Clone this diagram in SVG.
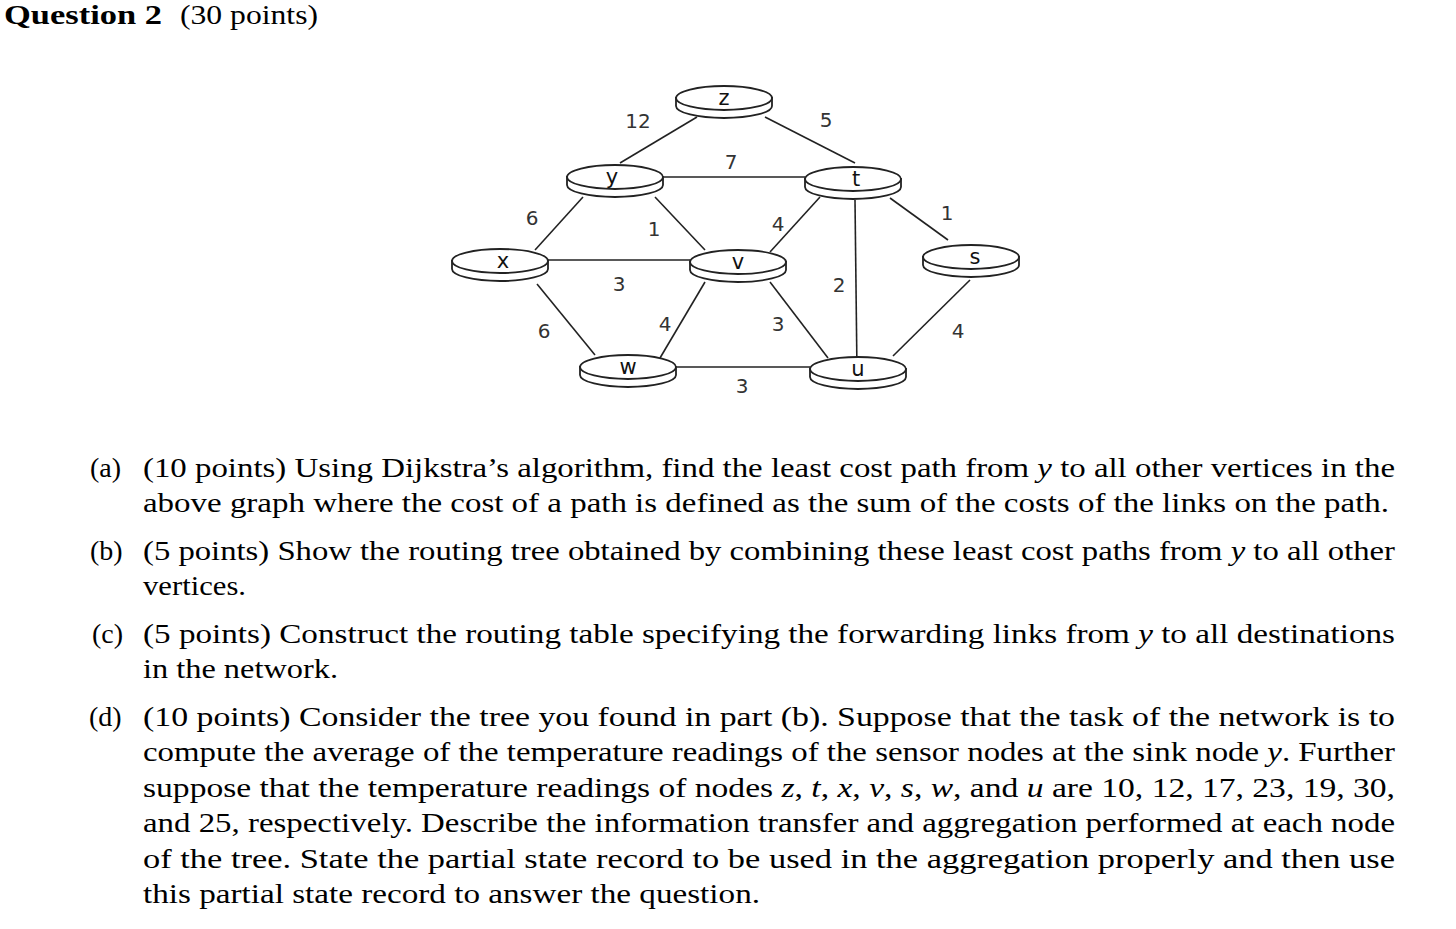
<svg xmlns="http://www.w3.org/2000/svg" width="1456" height="929" viewBox="0 0 1456 929">
<style>
.e{stroke:#222;stroke-width:1.6;fill:none}
.d{fill:#fff;stroke:#222;stroke-width:1.8}
.n{font-family:"DejaVu Sans",sans-serif;font-size:21px;fill:#111;text-anchor:middle}
.l{font-family:"DejaVu Sans",sans-serif;font-size:20px;fill:#333;text-anchor:middle}
.t{font-family:"Liberation Serif",serif;font-size:28px;fill:#000}
.i{font-style:italic}
</style>
<rect width="1456" height="929" fill="#fff"/>
<text x="4" y="24" class="t" font-weight="bold" textLength="158" lengthAdjust="spacingAndGlyphs">Question 2</text>
<text x="180" y="24" class="t" textLength="138" lengthAdjust="spacingAndGlyphs">(30 points)</text>
<g id="connectors">
<line class="e" x1="620" y1="163" x2="697" y2="117"/>
<line class="e" x1="765" y1="117" x2="855" y2="163"/>
<line class="e" x1="664" y1="177" x2="805" y2="177"/>
<line class="e" x1="583" y1="197" x2="535" y2="250"/>
<line class="e" x1="655" y1="197" x2="705" y2="250"/>
<line class="e" x1="820" y1="197" x2="770" y2="252"/>
<line class="e" x1="548" y1="260" x2="690" y2="260"/>
<line class="e" x1="890" y1="198" x2="948" y2="240"/>
<line class="e" x1="855" y1="200" x2="857" y2="372"/>
<line class="e" x1="537" y1="284" x2="595" y2="355"/>
<line class="e" x1="705" y1="282" x2="660" y2="358"/>
<line class="e" x1="770" y1="282" x2="828" y2="358"/>
<line class="e" x1="677" y1="367" x2="810" y2="367"/>
<line class="e" x1="970" y1="280" x2="893" y2="356"/>
<text class="l" x="638" y="128">12</text>
<text class="l" x="826" y="127">5</text>
<text class="l" x="731" y="169">7</text>
<text class="l" x="532" y="225">6</text>
<text class="l" x="654" y="236">1</text>
<text class="l" x="778" y="231">4</text>
<text class="l" x="947" y="220">1</text>
<text class="l" x="619" y="291">3</text>
<text class="l" x="839" y="292">2</text>
<text class="l" x="544" y="338">6</text>
<text class="l" x="665" y="331">4</text>
<text class="l" x="778" y="331">3</text>
<text class="l" x="958" y="338">4</text>
<text class="l" x="742" y="393">3</text>
</g>
<defs>
<g id="disk">
<path class="d" d="M-48,0 v8 A48,12 0 0 0 48,8 v-8 Z"/>
<ellipse class="d" cx="0" cy="0" rx="48" ry="12"/>
</g>
</defs>
<g id="node-z"><use href="#disk" x="724" y="98"/><text class="n" x="724" y="105">z</text></g>
<g id="node-y"><use href="#disk" x="615" y="177"/><text class="n" x="612" y="184">y</text></g>
<g id="node-t"><use href="#disk" x="853" y="179"/><text class="n" x="856" y="186">t</text></g>
<g id="node-x"><use href="#disk" x="500" y="261"/><text class="n" x="503" y="268">x</text></g>
<g id="node-v"><use href="#disk" x="738" y="262"/><text class="n" x="738" y="269">v</text></g>
<g id="node-s"><use href="#disk" x="971" y="257"/><text class="n" x="975" y="264">s</text></g>
<g id="node-w"><use href="#disk" x="628" y="367"/><text class="n" x="628" y="374">w</text></g>
<g id="node-u"><use href="#disk" x="858" y="369"/><text class="n" x="858" y="376">u</text></g>
<g id="text">
<text class="t" x="90" y="477">(a)</text>
<text class="t" x="143" y="477" textLength="1252" lengthAdjust="spacingAndGlyphs">(10 points) Using Dijkstra’s algorithm, find the least cost path from <tspan class="i">y</tspan> to all other vertices in the</text>
<text class="t" x="143" y="512" textLength="1246" lengthAdjust="spacingAndGlyphs">above graph where the cost of a path is defined as the sum of the costs of the links on the path.</text>
<text class="t" x="90" y="560">(b)</text>
<text class="t" x="143" y="560" textLength="1252" lengthAdjust="spacingAndGlyphs">(5 points) Show the routing tree obtained by combining these least cost paths from <tspan class="i">y</tspan> to all other</text>
<text class="t" x="143" y="595" textLength="103" lengthAdjust="spacingAndGlyphs">vertices.</text>
<text class="t" x="92" y="643">(c)</text>
<text class="t" x="143" y="643" textLength="1252" lengthAdjust="spacingAndGlyphs">(5 points) Construct the routing table specifying the forwarding links from <tspan class="i">y</tspan> to all destinations</text>
<text class="t" x="143" y="678" textLength="195" lengthAdjust="spacingAndGlyphs">in the network.</text>
<text class="t" x="89" y="726">(d)</text>
<text class="t" x="143" y="726" textLength="1252" lengthAdjust="spacingAndGlyphs">(10 points) Consider the tree you found in part (b). Suppose that the task of the network is to</text>
<text class="t" x="143" y="761" textLength="1252" lengthAdjust="spacingAndGlyphs">compute the average of the temperature readings of the sensor nodes at the sink node <tspan class="i">y</tspan>. Further</text>
<text class="t" x="143" y="797" textLength="1252" lengthAdjust="spacingAndGlyphs">suppose that the temperature readings of nodes <tspan class="i">z</tspan>, <tspan class="i">t</tspan>, <tspan class="i">x</tspan>, <tspan class="i">v</tspan>, <tspan class="i">s</tspan>, <tspan class="i">w</tspan>, and <tspan class="i">u</tspan> are 10, 12, 17, 23, 19, 30,</text>
<text class="t" x="143" y="832" textLength="1252" lengthAdjust="spacingAndGlyphs">and 25, respectively. Describe the information transfer and aggregation performed at each node</text>
<text class="t" x="143" y="868" textLength="1252" lengthAdjust="spacingAndGlyphs">of the tree. State the partial state record to be used in the aggregation properly and then use</text>
<text class="t" x="143" y="903" textLength="617" lengthAdjust="spacingAndGlyphs">this partial state record to answer the question.</text>
</g>
</svg>
